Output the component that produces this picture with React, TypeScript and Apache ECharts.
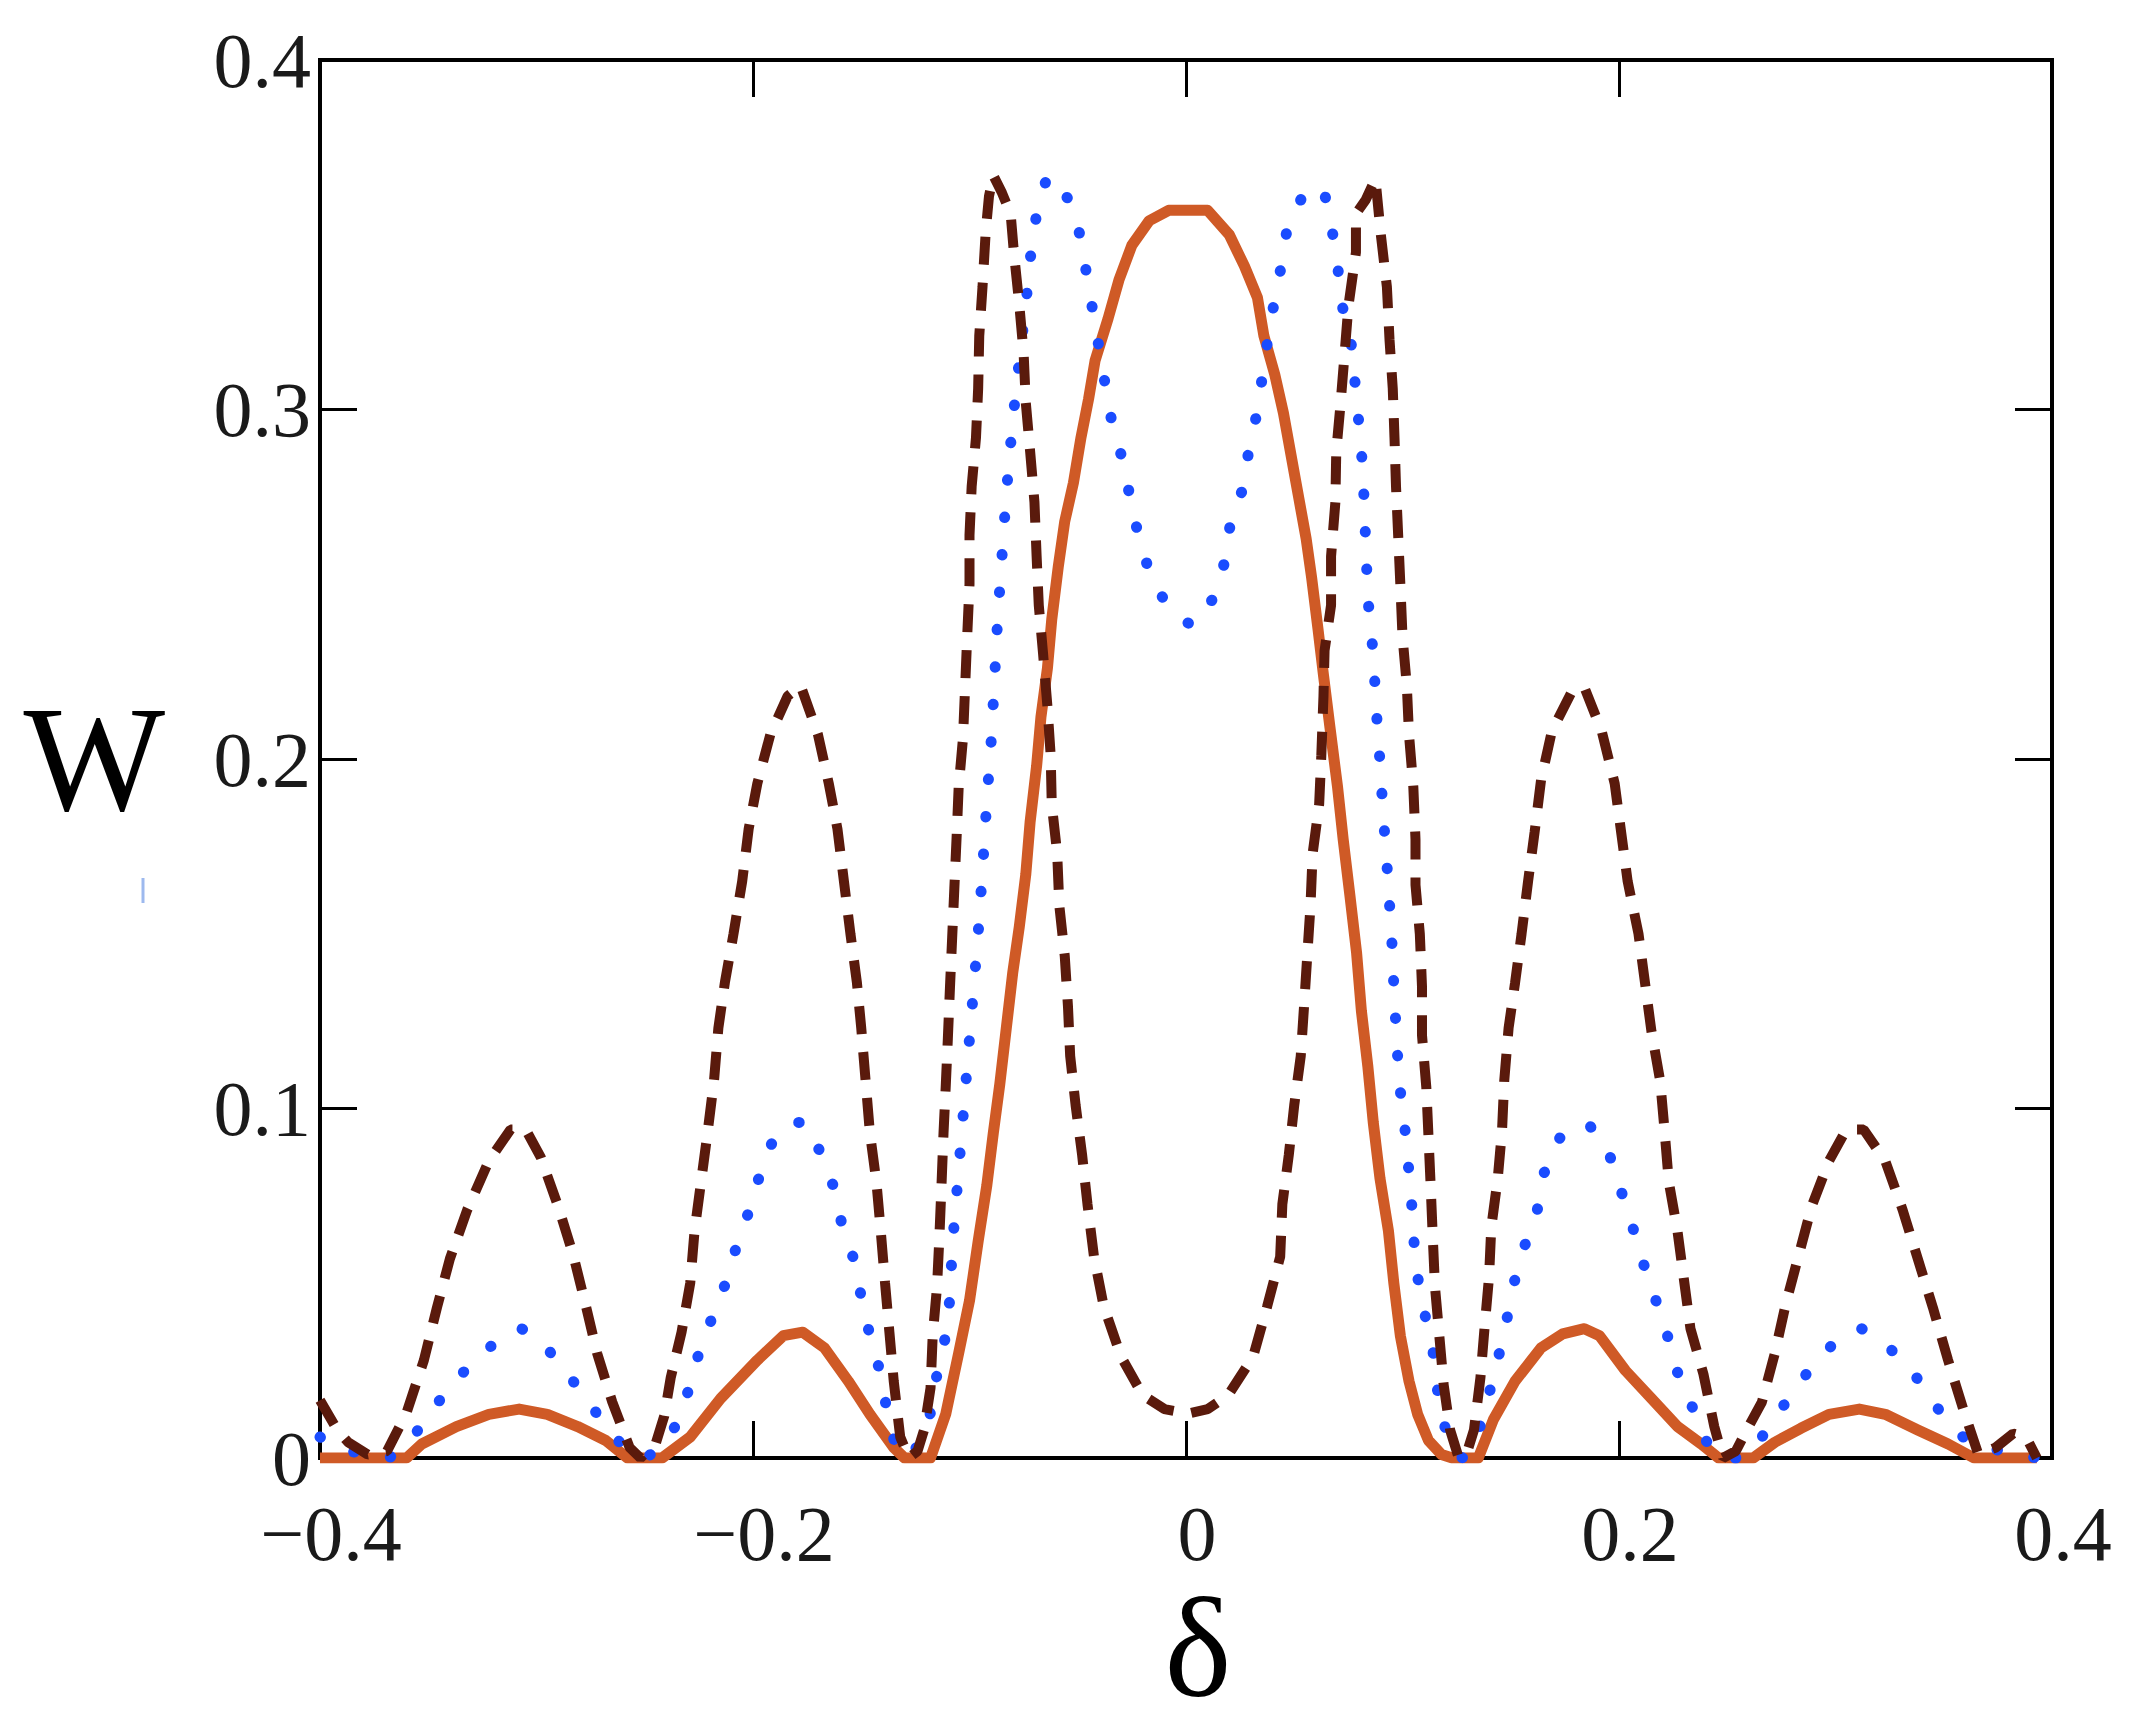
import React, { useEffect, useRef } from 'react';
import * as echarts from 'echarts';

const xTicks = [-0.4, -0.2, 0, 0.2, 0.4];
const yTicks = [0, 0.1, 0.2, 0.3, 0.4];
const xName = 'δ';
const yName = 'W';

// solid orange trace
const orangeW: [number, number][] = [
  [-0.400, 0.000], [-0.360, 0.000], [-0.353, 0.004], [-0.337, 0.009], [-0.322, 0.0125],
  [-0.308, 0.014], [-0.295, 0.0125], [-0.281, 0.009], [-0.268, 0.005], [-0.258, 0.000],
  [-0.242, 0.000], [-0.229, 0.006], [-0.215, 0.017], [-0.198, 0.028], [-0.186, 0.035],
  [-0.177, 0.036], [-0.167, 0.0315], [-0.156, 0.022], [-0.146, 0.0125], [-0.135, 0.003],
  [-0.130, 0.000], [-0.118, 0.000], [-0.111, 0.0125], [-0.105, 0.030], [-0.100, 0.045],
  [-0.096, 0.062], [-0.092, 0.078], [-0.089, 0.093], [-0.086, 0.107], [-0.083, 0.123],
  [-0.080, 0.139], [-0.077, 0.152], [-0.074, 0.167], [-0.072, 0.182], [-0.069, 0.198],
  [-0.067, 0.212], [-0.064, 0.226], [-0.062, 0.240], [-0.059, 0.255], [-0.056, 0.268],
  [-0.052, 0.279], [-0.0485, 0.292], [-0.045, 0.303], [-0.042, 0.314], [-0.036, 0.326],
  [-0.031, 0.337], [-0.025, 0.347], [-0.017, 0.354], [-0.008, 0.357], [0.000, 0.357],
  [0.010, 0.357], [0.020, 0.350], [0.027, 0.341], [0.033, 0.332], [0.036, 0.321],
  [0.041, 0.310], [0.045, 0.299], [0.0485, 0.287], [0.052, 0.275], [0.0555, 0.263],
  [0.058, 0.252], [0.061, 0.237], [0.0635, 0.224], [0.0665, 0.209], [0.070, 0.192],
  [0.0726, 0.177], [0.0757, 0.161], [0.0788, 0.1445], [0.081, 0.128], [0.084, 0.112],
  [0.0865, 0.096], [0.0896, 0.080], [0.0935, 0.065], [0.096, 0.050], [0.099, 0.035],
  [0.103, 0.022], [0.107, 0.0125], [0.112, 0.005], [0.118, 0.001], [0.123, 0.000],
  [0.135, 0.000], [0.142, 0.011], [0.152, 0.022], [0.164, 0.0315], [0.174, 0.0355],
  [0.184, 0.037], [0.191, 0.035], [0.203, 0.025], [0.215, 0.017], [0.227, 0.009],
  [0.238, 0.004], [0.246, 0.000], [0.262, 0.000], [0.272, 0.0045], [0.284, 0.0085],
  [0.297, 0.0125], [0.311, 0.014], [0.323, 0.0125], [0.338, 0.008], [0.352, 0.004],
  [0.364, 0.000], [0.393, 0.000],
];

// dotted blue trace
const blueW: [number, number][] = [
  [-0.400, 0.006], [-0.393, 0.003], [-0.387, 0.002], [-0.368, 0.000], [-0.357, 0.006],
  [-0.349, 0.013], [-0.338, 0.022], [-0.328, 0.028], [-0.314, 0.036], [-0.307, 0.037],
  [-0.300, 0.035], [-0.288, 0.026], [-0.277, 0.017], [-0.268, 0.009], [-0.258, 0.002],
  [-0.250, 0.000], [-0.242, 0.003], [-0.236, 0.009], [-0.230, 0.019], [-0.225, 0.030],
  [-0.219, 0.040], [-0.212, 0.051], [-0.207, 0.062], [-0.201, 0.072], [-0.196, 0.083],
  [-0.190, 0.092], [-0.182, 0.096], [-0.175, 0.096], [-0.170, 0.089], [-0.163, 0.078],
  [-0.159, 0.067], [-0.153, 0.056], [-0.150, 0.046], [-0.146, 0.035], [-0.141, 0.024],
  [-0.138, 0.013], [-0.134, 0.003], [-0.129, 0.000], [-0.123, 0.004], [-0.118, 0.013],
  [-0.115, 0.024], [-0.111, 0.035], [-0.109, 0.046], [-0.108, 0.060], [-0.106, 0.075],
  [-0.104, 0.090], [-0.102, 0.105], [-0.100, 0.120], [-0.098, 0.135], [-0.096, 0.150],
  [-0.094, 0.168], [-0.092, 0.188], [-0.090, 0.205], [-0.0885, 0.222], [-0.087, 0.240],
  [-0.085, 0.258], [-0.083, 0.276], [-0.080, 0.297], [-0.077, 0.314], [-0.074, 0.330],
  [-0.0716, 0.345], [-0.069, 0.356], [-0.064, 0.367], [-0.054, 0.360], [-0.0485, 0.349],
  [-0.046, 0.339], [-0.043, 0.328], [-0.040, 0.317], [-0.037, 0.306], [-0.034, 0.2955],
  [-0.029, 0.285], [-0.0256, 0.274], [-0.022, 0.264], [-0.0167, 0.253], [-0.008, 0.243],
  [0.003, 0.238], [0.0124, 0.2458], [0.0177, 0.256], [0.0204, 0.267], [0.0266, 0.278],
  [0.029, 0.2884], [0.0328, 0.299], [0.0354, 0.310], [0.038, 0.321], [0.041, 0.3316],
  [0.0443, 0.342], [0.047, 0.353], [0.0556, 0.363], [0.0636, 0.363], [0.067, 0.353],
  [0.070, 0.342], [0.0713, 0.3316], [0.076, 0.3207], [0.0785, 0.305], [0.081, 0.2884],
  [0.082, 0.278], [0.083, 0.262], [0.084, 0.246], [0.0865, 0.230], [0.088, 0.213],
  [0.0895, 0.200], [0.091, 0.185], [0.093, 0.168], [0.095, 0.149], [0.096, 0.135],
  [0.0975, 0.117], [0.099, 0.105], [0.101, 0.095], [0.104, 0.075], [0.106, 0.055],
  [0.110, 0.042], [0.114, 0.031], [0.116, 0.020], [0.119, 0.010], [0.124, 0.001],
  [0.128, 0.000], [0.134, 0.005], [0.139, 0.016], [0.144, 0.028], [0.148, 0.039],
  [0.151, 0.049], [0.156, 0.060], [0.162, 0.070], [0.165, 0.081], [0.173, 0.092],
  [0.185, 0.096], [0.194, 0.090], [0.199, 0.080], [0.205, 0.069], [0.210, 0.058],
  [0.216, 0.047], [0.222, 0.036], [0.226, 0.026], [0.233, 0.016], [0.239, 0.006],
  [0.246, 0.000], [0.258, 0.000], [0.266, 0.006], [0.273, 0.0125], [0.282, 0.020],
  [0.291, 0.028], [0.305, 0.036], [0.312, 0.037], [0.319, 0.035], [0.334, 0.026],
  [0.342, 0.019], [0.353, 0.009], [0.363, 0.004], [0.377, 0.002], [0.393, 0.000],
];

// dashed brown trace
const brownW: [number, number][] = [
  [-0.400, 0.0165], [-0.392, 0.008], [-0.387, 0.0045], [-0.378, 0.001], [-0.369, 0.002],
  [-0.360, 0.013], [-0.352, 0.028], [-0.346, 0.043], [-0.340, 0.057], [-0.332, 0.071],
  [-0.322, 0.085], [-0.312, 0.094], [-0.305, 0.094], [-0.298, 0.086], [-0.290, 0.072],
  [-0.283, 0.058], [-0.277, 0.043], [-0.272, 0.030], [-0.265, 0.016], [-0.257, 0.003],
  [-0.252, 0.000], [-0.245, 0.004], [-0.241, 0.012], [-0.238, 0.023], [-0.233, 0.036],
  [-0.229, 0.050], [-0.227, 0.065], [-0.224, 0.079], [-0.221, 0.093], [-0.218, 0.108],
  [-0.216, 0.123], [-0.213, 0.136], [-0.209, 0.150], [-0.205, 0.165], [-0.202, 0.180],
  [-0.198, 0.193], [-0.192, 0.207], [-0.184, 0.218], [-0.178, 0.221], [-0.170, 0.207],
  [-0.165, 0.193], [-0.161, 0.180], [-0.158, 0.165], [-0.155, 0.150], [-0.152, 0.136],
  [-0.150, 0.123], [-0.148, 0.108], [-0.146, 0.093], [-0.143, 0.079], [-0.141, 0.065],
  [-0.139, 0.050], [-0.137, 0.036], [-0.135, 0.022], [-0.132, 0.006], [-0.128, 0.000],
  [-0.124, 0.002], [-0.121, 0.008], [-0.118, 0.020], [-0.117, 0.035], [-0.115, 0.049],
  [-0.114, 0.062], [-0.113, 0.077], [-0.112, 0.093], [-0.111, 0.106], [-0.110, 0.120],
  [-0.109, 0.135], [-0.108, 0.149], [-0.107, 0.163], [-0.106, 0.177], [-0.105, 0.192],
  [-0.103, 0.206], [-0.102, 0.221], [-0.101, 0.236], [-0.100, 0.250], [-0.100, 0.264],
  [-0.099, 0.278], [-0.097, 0.292], [-0.096, 0.306], [-0.0955, 0.321], [-0.094, 0.335],
  [-0.0925, 0.351], [-0.091, 0.361], [-0.089, 0.367], [-0.085, 0.362], [-0.081, 0.356],
  [-0.0795, 0.345], [-0.077, 0.330], [-0.075, 0.316], [-0.074, 0.302], [-0.072, 0.288],
  [-0.070, 0.2735], [-0.069, 0.258], [-0.068, 0.244], [-0.066, 0.230], [-0.064, 0.215],
  [-0.0625, 0.201], [-0.062, 0.187], [-0.0595, 0.173], [-0.0585, 0.158], [-0.056, 0.1436],
  [-0.0545, 0.129], [-0.0535, 0.115], [-0.051, 0.101], [-0.048, 0.0868], [-0.0455, 0.0726],
  [-0.0425, 0.0576], [-0.038, 0.0434], [-0.030, 0.029], [-0.020, 0.018], [-0.010, 0.014],
  [0.001, 0.0127], [0.010, 0.014], [0.0195, 0.018], [0.031, 0.029], [0.0375, 0.0434],
  [0.0435, 0.0576], [0.0445, 0.0726], [0.0475, 0.0868], [0.050, 0.101], [0.053, 0.115],
  [0.0545, 0.129], [0.056, 0.1436], [0.0575, 0.158], [0.0585, 0.173], [0.0615, 0.187],
  [0.0625, 0.201], [0.0635, 0.218], [0.064, 0.231], [0.067, 0.244], [0.067, 0.258],
  [0.069, 0.2735], [0.0694, 0.288], [0.0713, 0.301], [0.073, 0.314], [0.075, 0.3295],
  [0.0785, 0.345], [0.0785, 0.356], [0.083, 0.360], [0.0875, 0.366], [0.090, 0.350],
  [0.0928, 0.335], [0.094, 0.320], [0.0955, 0.306], [0.0963, 0.292], [0.097, 0.278],
  [0.098, 0.264], [0.099, 0.250], [0.100, 0.235], [0.102, 0.221], [0.103, 0.207],
  [0.105, 0.192], [0.106, 0.177], [0.106, 0.164], [0.108, 0.150], [0.109, 0.135],
  [0.109, 0.121], [0.111, 0.106], [0.112, 0.092], [0.113, 0.078], [0.114, 0.063],
  [0.115, 0.049], [0.117, 0.035], [0.119, 0.021], [0.122, 0.008], [0.126, 0.000],
  [0.130, 0.002], [0.133, 0.008], [0.136, 0.023], [0.138, 0.038], [0.140, 0.052],
  [0.141, 0.066], [0.144, 0.080], [0.146, 0.094], [0.147, 0.108], [0.149, 0.123],
  [0.152, 0.136], [0.155, 0.150], [0.158, 0.165], [0.161, 0.179], [0.164, 0.194],
  [0.169, 0.208], [0.178, 0.219], [0.184, 0.2205], [0.192, 0.208], [0.198, 0.193],
  [0.201, 0.179], [0.204, 0.165], [0.209, 0.150], [0.212, 0.136], [0.215, 0.122],
  [0.219, 0.108], [0.221, 0.094], [0.223, 0.079], [0.227, 0.065], [0.230, 0.051],
  [0.233, 0.037], [0.239, 0.024], [0.244, 0.009], [0.248, 0.000], [0.254, 0.002],
  [0.259, 0.008], [0.266, 0.016], [0.272, 0.030], [0.277, 0.044], [0.283, 0.058],
  [0.289, 0.072], [0.297, 0.085], [0.305, 0.094], [0.313, 0.094], [0.323, 0.085],
  [0.331, 0.071], [0.338, 0.057], [0.345, 0.043], [0.352, 0.028], [0.359, 0.014],
  [0.366, 0.001], [0.374, 0.003], [0.382, 0.007], [0.388, 0.006], [0.393, 0.000],
];

const FONT = '"Liberation Serif", "Times New Roman", serif';

function fmtX(v: number): string {
  if (Math.abs(v) < 1e-9) return '0';
  const s = Math.abs(v).toFixed(1);
  return v < 0 ? '\u2212' + s : s;
}
function fmtY(v: number): string {
  if (Math.abs(v) < 1e-9) return '0';
  return v.toFixed(1);
}

export default function App() {
  const ref = useRef<HTMLDivElement>(null);
  useEffect(() => {
    if (!ref.current) return;
    const chart = echarts.init(ref.current, null, { renderer: 'svg' });
    const xMin = xTicks[0];
    const xMax = xTicks[xTicks.length - 1];
    const xInt = xTicks[1] - xTicks[0];
    const yMin = yTicks[0];
    const yMax = yTicks[yTicks.length - 1];
    const yInt = yTicks[1] - yTicks[0];
    const line = { show: true, onZero: false, lineStyle: { color: '#000', width: 4, cap: 'square' } };
    const tick = { show: true, inside: true, length: 37, lineStyle: { color: '#000', width: 3 } };
    const labelStyle = { fontFamily: FONT, fontSize: 78, color: '#1a1a1a' };
    chart.setOption({
      animation: false,
      backgroundColor: '#ffffff',
      grid: { left: 320, right: 87, top: 60, bottom: 272, containLabel: false },
      xAxis: [
        {
          type: 'value', position: 'bottom', min: xMin, max: xMax, interval: xInt,
          axisLine: line, axisTick: tick, splitLine: { show: false },
          axisLabel: { ...labelStyle, lineHeight: 58, margin: 46, formatter: fmtX, padding: [0, 0, 0, 22] },
          name: xName, nameLocation: 'middle', nameGap: 128,
          nameTextStyle: { fontFamily: FONT, fontSize: 142, lineHeight: 112, color: '#000', padding: [0, 0, 0, 24] },
        },
        {
          type: 'value', position: 'top', min: xMin, max: xMax, interval: xInt,
          axisLine: line, axisTick: tick, splitLine: { show: false }, axisLabel: { show: false },
        },
      ],
      yAxis: [
        {
          type: 'value', position: 'left', min: yMin, max: yMax, interval: yInt,
          axisLine: line, axisTick: tick, splitLine: { show: false },
          axisLabel: { ...labelStyle, lineHeight: 40, margin: 9, formatter: fmtY },
          name: yName, nameLocation: 'middle', nameRotate: 0, nameGap: 155,
          nameTextStyle: { fontFamily: FONT, fontSize: 150, color: '#000' },
        },
        {
          type: 'value', position: 'right', min: yMin, max: yMax, interval: yInt,
          axisLine: line, axisTick: tick, splitLine: { show: false }, axisLabel: { show: false },
        },
      ],
      graphic: [
        { type: 'line', shape: { x1: 143, y1: 878, x2: 143, y2: 903 }, style: { stroke: '#9db9ee', lineWidth: 3 } },
      ],
      series: [
        {
          type: 'line', name: 'solid', data: orangeW, showSymbol: false, symbol: 'none', z: 2,
          lineStyle: { color: '#cf5a26', width: 11, type: 'solid', join: 'round' },
        },
        {
          type: 'line', name: 'dotted', data: blueW, showSymbol: false, symbol: 'none', z: 3,
          lineStyle: { color: '#1a4cff', width: 11, type: [0.5, 37], cap: 'round' },
        },
        {
          type: 'line', name: 'dashed', data: brownW, showSymbol: false, symbol: 'none', z: 4,
          lineStyle: { color: '#5a1a0c', width: 10, type: [28, 18], cap: 'butt' },
        },
      ],
    });
    return () => chart.dispose();
  }, []);
  return (
    <div
      ref={ref}
      style={{ position: 'absolute', left: 0, top: 0, width: 2139, height: 1730, background: '#fff' }}
    />
  );
}
